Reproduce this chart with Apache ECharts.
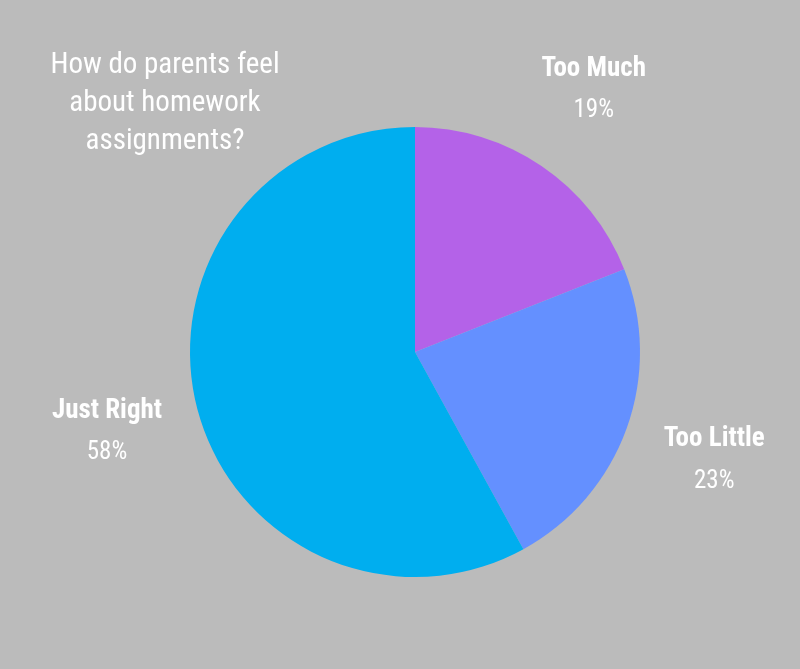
<!DOCTYPE html>
<html><head><meta charset="utf-8">
<script src="https://cdn.jsdelivr.net/npm/echarts@6/dist/echarts.min.js"></script>
<style>html,body{margin:0;background:#bbbbbb}#c{width:800px;height:669px}</style>
</head><body><div id="c"></div>
<script>
const categories = ['Too Much', 'Too Little', 'Just Right'];
const values = [19, 23, 58];
const colors = ['#b462e8', '#6490ff', '#00aeef'];
const titleText = 'How do parents feel\nabout homework\nassignments?';
const font = "'Roboto Condensed','Liberation Sans Narrow',Roboto,sans-serif";
const data = categories.map((n, i) => ({ name: n, value: values[i], itemStyle: { color: colors[i] } }));
const chart = echarts.init(document.getElementById('c'));
chart.setOption({
  backgroundColor: '#bbbbbb',
  animation: false,
  title: { text: titleText, left: 160, top: 42, textAlign: 'center',
    textStyle: { color: '#fff', fontSize: 29, fontWeight: 'normal', fontFamily: font, lineHeight: 38 } },
  series: [
    { type: 'pie', center: [415, 352], radius: [0, 225], startAngle: 90, clockwise: true,
      data: data, label: { show: false }, labelLine: { show: false }, silent: true },
    { type: 'pie', center: [415, 352], radius: [270, 360], startAngle: 90, clockwise: true, silent: true,
      data: data.map(d => ({ name: d.name, value: d.value, itemStyle: { color: 'transparent' } })),
      label: { show: true, position: 'inside', formatter: '{a|{b}}\n{b|{c}%}', color: '#fff',
        rich: { a: { fontSize: 27, fontWeight: 'bold', fontFamily: font, color: '#fff', lineHeight: 44 },
                b: { fontSize: 25, fontFamily: font, color: '#fff', lineHeight: 40 } } },
      labelLine: { show: false } }
  ]
});
</script></body></html>
